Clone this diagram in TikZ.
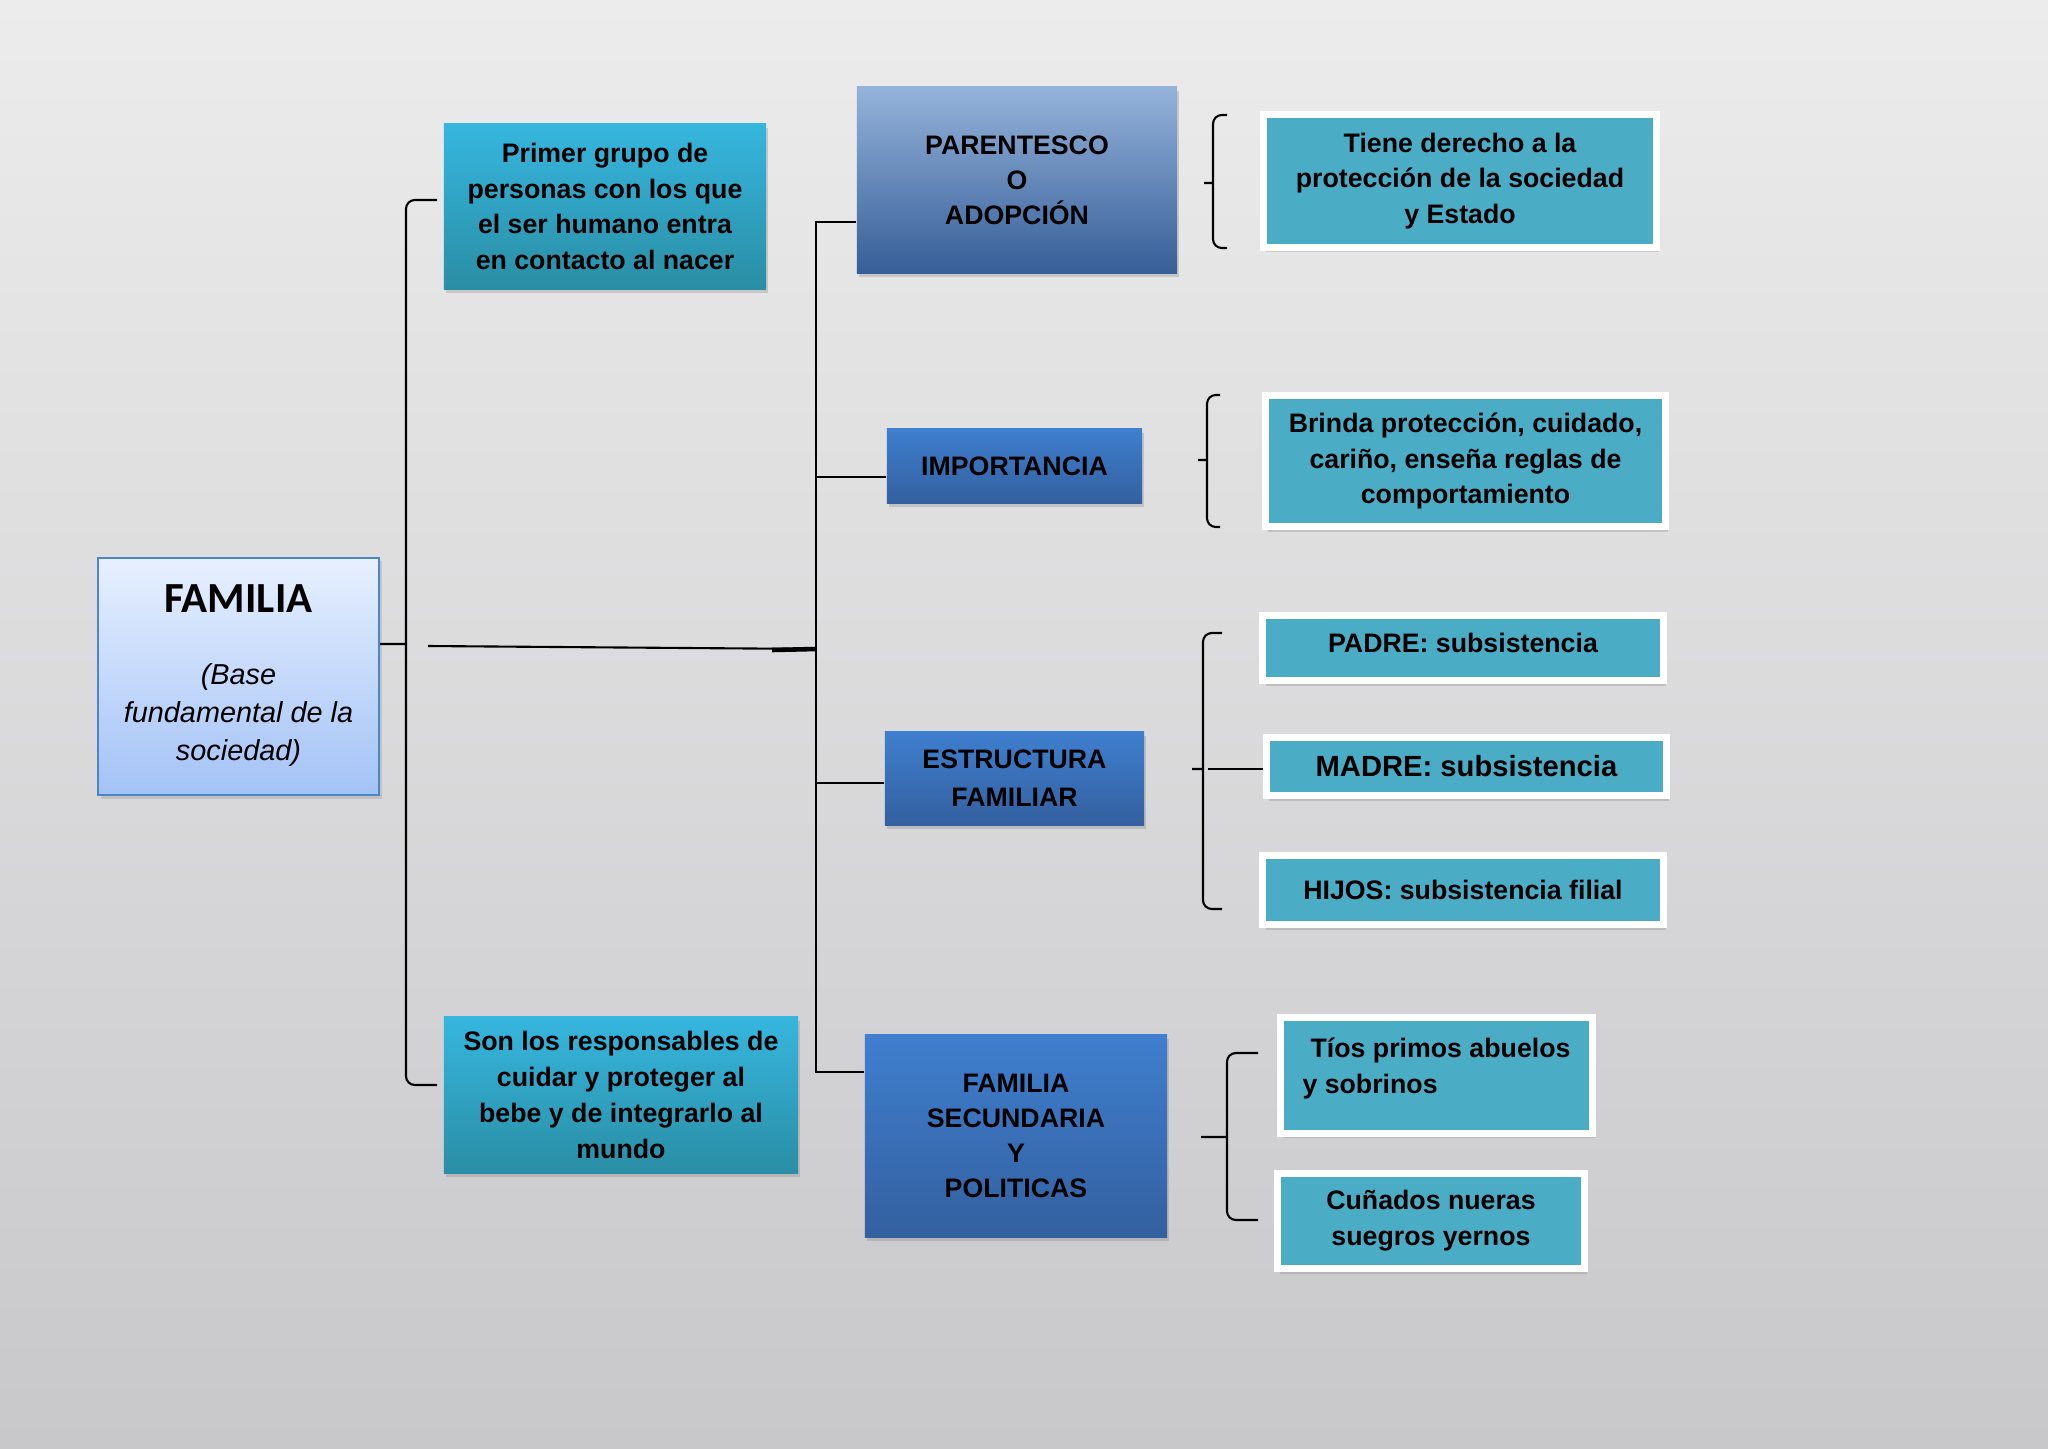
\documentclass[tikz,border=0pt]{standalone}
\usepackage{fontspec}
\setmainfont{Liberation Sans}
\newfontfamily\titlefont{Carlito}
\usetikzlibrary{shadows}

\definecolor{bgtop}{HTML}{ECECEC}
\definecolor{bgbot}{HTML}{C8C7CA}
\definecolor{famtop}{HTML}{E7F0FF}
\definecolor{fambot}{HTML}{A3C2F6}
\definecolor{famline}{HTML}{4A86C8}
\definecolor{cyantop}{HTML}{36B6DE}
\definecolor{cyanbot}{HTML}{2A8EA5}
\definecolor{partop}{HTML}{95B3DA}
\definecolor{parbot}{HTML}{365E98}
\definecolor{bluetop}{HTML}{3F7FCF}
\definecolor{bluebot}{HTML}{33609F}
\definecolor{leafcol}{HTML}{4BACC6}

\begin{document}
\begin{tikzpicture}[
    x=0.01cm, y=-0.01cm,
    link/.style={draw=black, line width=0.6pt},
    brace/.style={draw=black, line width=0.6pt, rounded corners=2.5pt},
    txt/.style={font=\bfseries\fontsize{7.6}{10.2}\selectfont, align=center, inner sep=0pt},
    fambox/.style={top color=famtop, bottom color=fambot, draw=famline, line width=0.7pt,
        align=center, inner sep=0pt, font=\itshape\fontsize{8.2}{10.8}\selectfont,
        drop shadow={shadow xshift=0.8pt, shadow yshift=-1pt, opacity=0.25}},
    note/.style={txt, top color=cyantop, bottom color=cyanbot,
        drop shadow={shadow xshift=0.6pt, shadow yshift=-1.2pt, opacity=0.3}},
    topic/.style={txt, top color=bluetop, bottom color=bluebot,
        drop shadow={shadow xshift=0.6pt, shadow yshift=-1.2pt, opacity=0.3}},
    leaf/.style={txt, fill=leafcol, draw=white, line width=2pt,
        drop shadow={shadow xshift=0.8pt, shadow yshift=-1.5pt, opacity=0.3}}
]
    % ---- page background ----
    \shade[top color=bgtop, bottom color=bgbot] (0,0) rectangle (2048,1448);
    \useasboundingbox (0,0) rectangle (2048,1448);

    % ================= left column =================
    \node[fambox, minimum width=2.81cm, minimum height=2.37cm] (familia) at (238.5,676.5)
        {{\titlefont\upshape\bfseries\fontsize{12.2}{14}\selectfont FAMILIA}\\[9.7pt]
         (Base\\fundamental de la\\sociedad)\\[-8.5pt]\mbox{}};
    \node[note, minimum width=3.22cm, minimum height=1.65cm] (primer) at (605,206.5)
        {Primer grupo de\\personas con los que\\el ser humano entra\\en contacto al nacer};
    \node[note, minimum width=3.54cm, minimum height=1.56cm] (son) at (621,1095)
        {Son los responsables de\\cuidar y proteger al\\bebe y de integrarlo al\\mundo};

    % ================= middle column =================
    \node[topic, top color=partop, bottom color=parbot, font=\bfseries\fontsize{7.6}{10}\selectfont,
        minimum width=3.2cm, minimum height=1.86cm] (parentesco) at (1017,180)
        {PARENTESCO\\O\\ADOPCIÓN};
    \node[topic, minimum width=2.55cm, minimum height=0.74cm] (importancia) at (1014.5,466)
        {IMPORTANCIA};
    \node[topic, font=\bfseries\fontsize{7.6}{10.8}\selectfont,
        minimum width=2.59cm, minimum height=0.93cm] (estructura) at (1014.5,778.5)
        {ESTRUCTURA\\FAMILIAR};
    \node[topic, font=\bfseries\fontsize{7.6}{10}\selectfont,
        minimum width=3.02cm, minimum height=2.02cm] (secundaria) at (1016,1136)
        {FAMILIA\\SECUNDARIA\\Y\\POLITICAS};

    % ================= right column =================
    \node[leaf, minimum width=3.93cm, minimum height=1.32cm] (derecho) at (1460,181)
        {Tiene derecho a la\\protección de la sociedad\\y Estado};
    \node[leaf, minimum width=4cm, minimum height=1.315cm] (brinda) at (1465.5,461)
        {Brinda protección, cuidado,\\cariño, enseña reglas de\\comportamiento};
    \node[leaf, text depth=3pt, minimum width=4cm, minimum height=0.645cm] (padre) at (1463,648)
        {PADRE: subsistencia};
    \node[leaf, font=\bfseries\fontsize{8.3}{10.2}\selectfont,
        minimum width=4cm, minimum height=0.575cm] (madre) at (1466.5,766.5)
        {MADRE: subsistencia};
    \node[leaf, minimum width=4cm, minimum height=0.695cm] (hijos) at (1463,890)
        {HIJOS: subsistencia filial};
    \node[leaf, align=left, minimum width=3.12cm, minimum height=1.15cm] (tios) at (1436.5,1075.5)
        {\hspace{2.3pt}Tíos primos abuelos\\y sobrinos\\[-4.5pt]\mbox{}};
    \node[leaf, minimum width=3.065cm, minimum height=0.95cm] (cunados) at (1431,1221)
        {Cuñados nueras\\suegros yernos};

    % ---- braces (x of stem / top / tip / bottom / arm / tip length) ----
    \foreach \xv/\yt/\ym/\yb/\w/\d in {406/200/644/1085/31/31, 1213/115/183/248/14/14,
        1207/395/460/527/13/14, 1203/633/769/909/19/16, 1227/1053/1137/1220/31/31} {
        \draw[brace] ({\xv+\w},\yt) -- (\xv,\yt) -- (\xv,{\ym-9})
            .. controls (\xv,\ym) .. ({\xv-\d},\ym)
            .. controls (\xv,\ym) .. (\xv,{\ym+9}) -- (\xv,\yb) -- ({\xv+\w},\yb);
    }

    % ---- trunk towards the middle column ----
    \coordinate (hub) at (816,649);
    \coordinate (trunktop) at (816,222);
    \coordinate (trunkbot) at (816,1072);
    \draw[link] (428,646) -- (hub);
    \draw[link, line width=1.3pt] (772,650) -- (hub);
    \draw[link] (trunktop -| parentesco.west) -- (trunktop) -- (trunkbot) -- (trunkbot -| secundaria.west);
    \foreach \n/\y in {importancia/477, estructura/783} {
        \draw[link] (816,\y) -- (0,\y -| \n.west);
    }
    \draw[link] (1208,769) -- (0,769 -| madre.west);
\end{tikzpicture}
\end{document}
